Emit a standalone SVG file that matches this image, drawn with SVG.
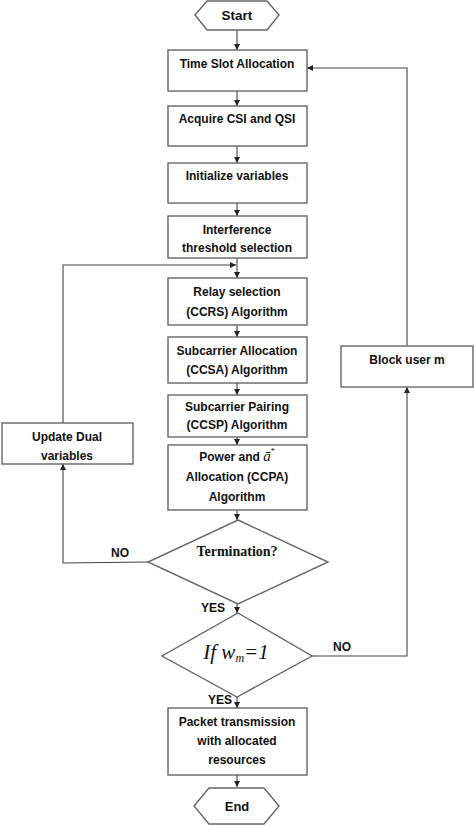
<svg xmlns="http://www.w3.org/2000/svg" width="474" height="826" viewBox="0 0 474 826">
<defs>
<marker id="ah" viewBox="0 0 8 8" refX="8" refY="4" markerWidth="6" markerHeight="6" orient="auto" markerUnits="userSpaceOnUse">
<path d="M0,0 L8,4 L0,8 z" fill="#222"/>
</marker>
</defs>
<style>
.box{fill:#fff;stroke:#666;stroke-width:1.4}
.t{font-family:"Liberation Sans",Arial,sans-serif;font-weight:bold;font-size:12px;fill:#111;text-anchor:middle}
.s{font-family:"Liberation Serif","Times New Roman",serif;fill:#111;text-anchor:middle}
.c{fill:none;stroke:#444;stroke-width:1.1}
</style>
<rect width="474" height="826" fill="#fff"/>
<g id="connectors">
<line class="c" x1="237" y1="30" x2="237" y2="50" marker-end="url(#ah)"/>
<line class="c" x1="237" y1="91" x2="237" y2="106" marker-end="url(#ah)"/>
<line class="c" x1="237" y1="146" x2="237" y2="163" marker-end="url(#ah)"/>
<line class="c" x1="237" y1="203" x2="237" y2="216" marker-end="url(#ah)"/>
<line class="c" x1="237" y1="258" x2="237" y2="278" marker-end="url(#ah)"/>
<line class="c" x1="237" y1="325" x2="237" y2="337" marker-end="url(#ah)"/>
<line class="c" x1="237" y1="383" x2="237" y2="395" marker-end="url(#ah)"/>
<line class="c" x1="237" y1="437" x2="237" y2="445" marker-end="url(#ah)"/>
<line class="c" x1="237" y1="510" x2="237" y2="520" marker-end="url(#ah)"/>
<polyline class="c" points="148,562 63,563 63,464" marker-end="url(#ah)"/>
<polyline class="c" points="63,423 63,265 236,265" marker-end="url(#ah)"/>
<line class="c" x1="237" y1="604" x2="237" y2="613" marker-end="url(#ah)"/>
<polyline class="c" points="312,656 407,656 407,387" marker-end="url(#ah)"/>
<polyline class="c" points="407,346 407,68 307,68" marker-end="url(#ah)"/>
<line class="c" x1="237" y1="697" x2="237" y2="708" marker-end="url(#ah)"/>
<line class="c" x1="237" y1="775" x2="237" y2="787" marker-end="url(#ah)"/>
<text class="t" x="120" y="557">NO</text>
<text class="t" x="213" y="612">YES</text>
<text class="t" x="342" y="651">NO</text>
<text class="t" x="220" y="704">YES</text>
</g>
<g id="start">
<polygon class="box" points="195,15 207,1 267,1 279,15 267,30 207,30"/>
<text class="t" x="237" y="20" style="font-size:13.5px">Start</text>
</g>
<g id="time-slot">
<rect class="box" x="168" y="50" width="139" height="41"/>
<text class="t" x="237" y="68">Time Slot Allocation</text>
</g>
<g id="acquire">
<rect class="box" x="168" y="106" width="139" height="40"/>
<text class="t" x="237" y="123">Acquire CSI and QSI</text>
</g>
<g id="init">
<rect class="box" x="168" y="163" width="139" height="40"/>
<text class="t" x="237" y="180">Initialize variables</text>
</g>
<g id="interference">
<rect class="box" x="168" y="216" width="139" height="42"/>
<text class="t" x="237" y="234">Interference</text>
<text class="t" x="237" y="252">threshold selection</text>
</g>
<g id="relay">
<rect class="box" x="168" y="278" width="139" height="47"/>
<text class="t" x="237" y="296">Relay selection</text>
<text class="t" x="237" y="316">(CCRS) Algorithm</text>
</g>
<g id="subcarrier-alloc">
<rect class="box" x="168" y="337" width="139" height="46"/>
<text class="t" x="237" y="355">Subcarrier Allocation</text>
<text class="t" x="237" y="374">(CCSA) Algorithm</text>
</g>
<g id="subcarrier-pair">
<rect class="box" x="168" y="395" width="139" height="42"/>
<text class="t" x="237" y="411">Subcarrier Pairing</text>
<text class="t" x="237" y="429">(CCSP) Algorithm</text>
</g>
<g id="power">
<rect class="box" x="168" y="445" width="139" height="65"/>
<text class="t" x="237" y="461">Power and <tspan style="font-family:'Liberation Serif',serif;font-style:italic;font-weight:normal;font-size:15px">ā</tspan><tspan style="font-family:'Liberation Serif',serif;font-weight:normal;font-size:8px" dy="-7">*</tspan></text>
<text class="t" x="237" y="481">Allocation (CCPA)</text>
<text class="t" x="237" y="501">Algorithm</text>
</g>
<g id="update-dual">
<rect class="box" x="2" y="423" width="131" height="41"/>
<text class="t" x="67" y="441">Update Dual</text>
<text class="t" x="67" y="460">variables</text>
</g>
<g id="termination">
<polygon class="box" points="238,520 328,562 238,604 148,562"/>
<text class="s" x="237" y="556" style="font-weight:bold;font-size:14px">Termination?</text>
</g>
<g id="if-wm">
<polygon class="box" points="238,613 312,656 237,697 162,656"/>
<text class="s" x="236" y="659" style="font-style:italic;font-size:21px">If  w<tspan dy="3" style="font-size:12px">m</tspan><tspan dy="-3">=1</tspan></text>
</g>
<g id="block-user">
<rect class="box" x="341" y="346" width="132" height="41"/>
<text class="t" x="407" y="364">Block user m</text>
</g>
<g id="packet">
<rect class="box" x="168" y="708" width="139" height="67"/>
<text class="t" x="237" y="726">Packet transmission</text>
<text class="t" x="237" y="745">with allocated</text>
<text class="t" x="237" y="764">resources</text>
</g>
<g id="end">
<polygon class="box" points="194,806 209,788 264,788 279,806 264,824 209,824"/>
<text class="t" x="237" y="811" style="font-size:13px">End</text>
</g>
</svg>
